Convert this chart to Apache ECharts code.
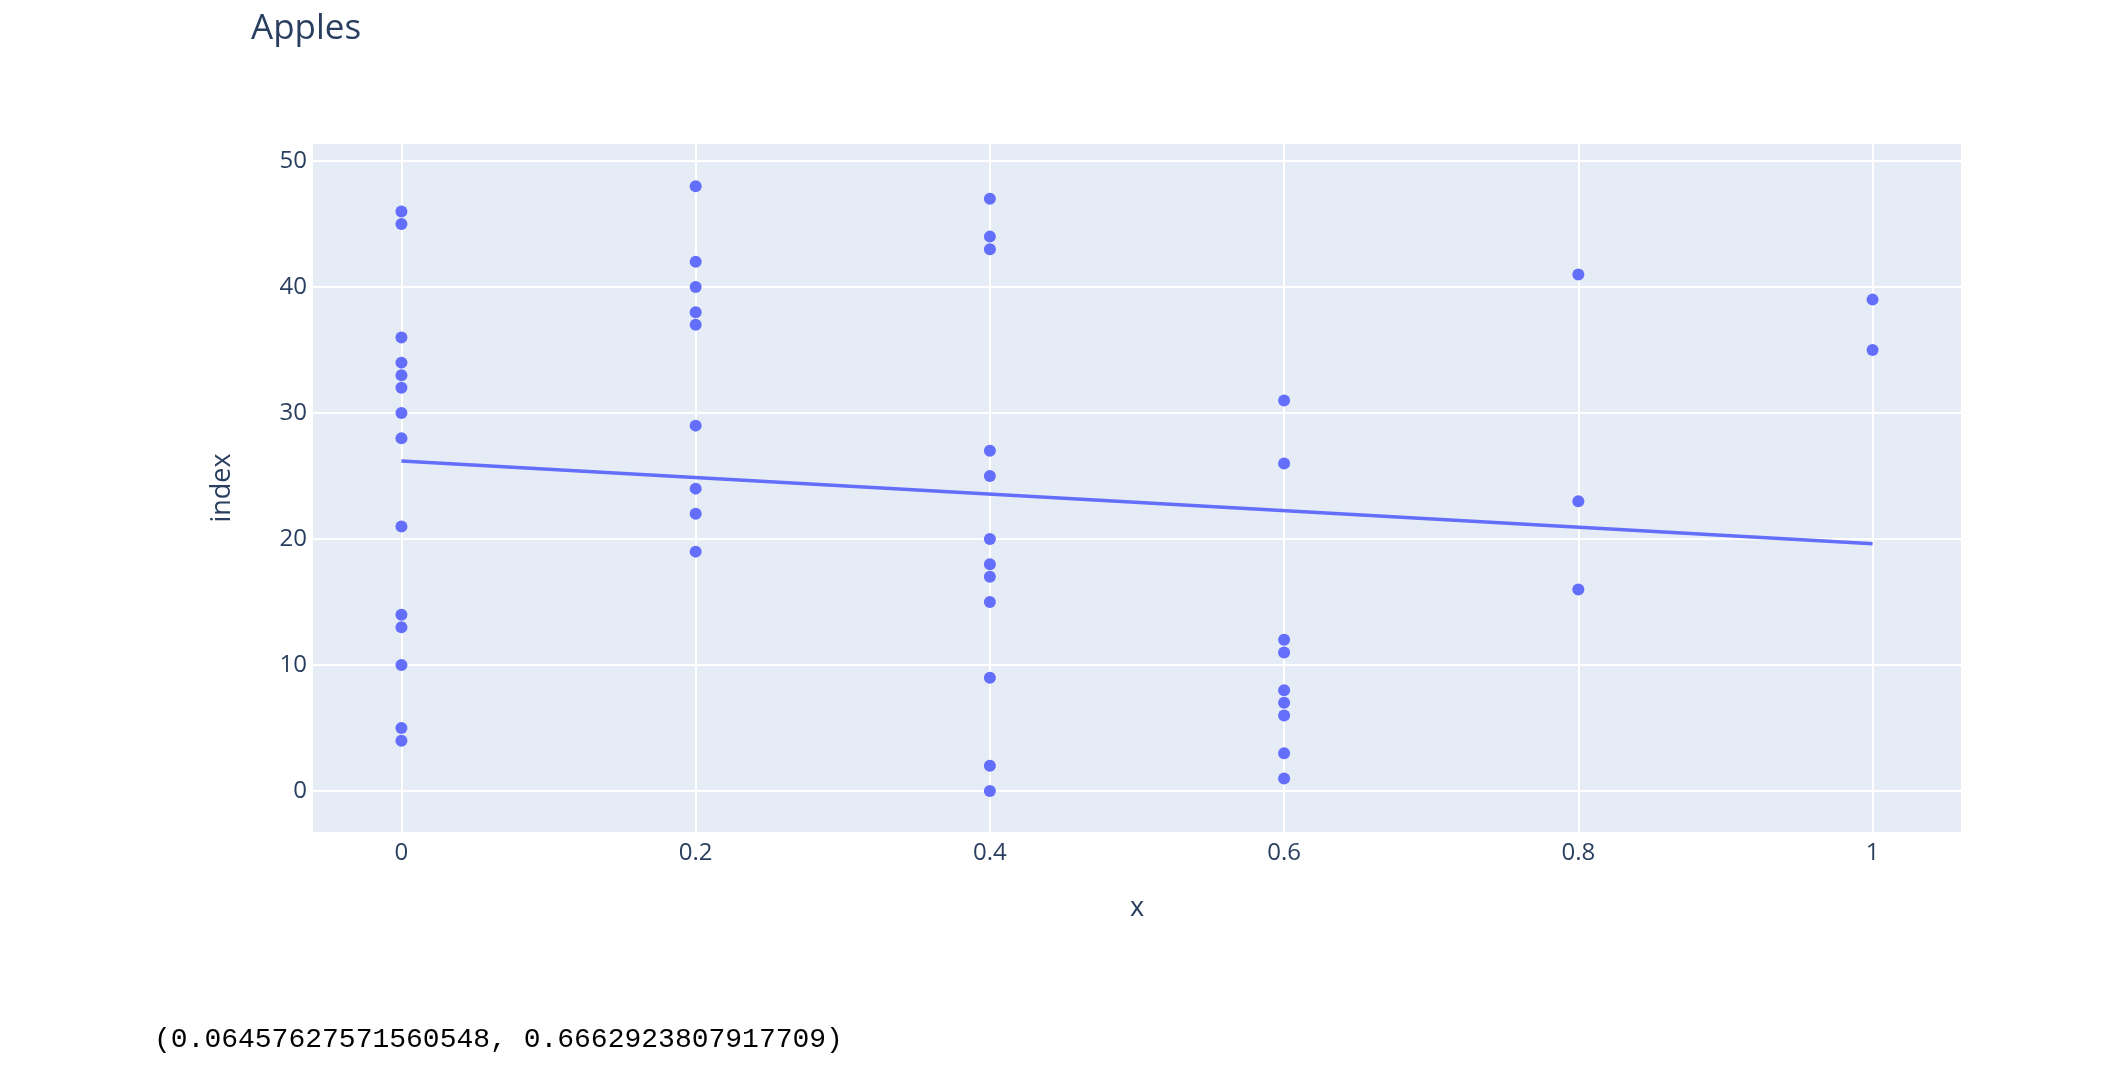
<!DOCTYPE html>
<html>
<head>
<meta charset="utf-8">
<script src="https://cdn.jsdelivr.net/npm/echarts@6/dist/echarts.min.js"></script>
<style>html,body{margin:0;padding:0;background:#fff;}#c{width:2120px;height:1084px;}</style>
</head>
<body>
<div id="c"></div>
<script>
// x value of each point group and the index values in it
const xGroups = [0, 0.2, 0.4, 0.6, 0.8, 1];
const idx_x0 = [46, 45, 36, 34, 33, 32, 30, 28, 21, 14, 13, 10, 5, 4];
const idx_x02 = [48, 42, 40, 38, 37, 29, 24, 22, 19];
const idx_x04 = [47, 44, 43, 27, 25, 20, 18, 17, 15, 9, 2, 0];
const idx_x06 = [31, 26, 12, 11, 8, 7, 6, 3, 1];
const idx_x08 = [41, 23, 16];
const idx_x1 = [39, 35];
const titleText = 'Apples';
const xName = 'x';
const yName = 'index';
const footerText = '(0.06457627571560548, 0.6662923807917709)';

const groups = [idx_x0, idx_x02, idx_x04, idx_x06, idx_x08, idx_x1];
const points = [];
groups.forEach((g, i) => g.forEach(v => points.push([xGroups[i], v])));

// OLS trendline from the points
const n = points.length;
const mx = points.reduce((s, p) => s + p[0], 0) / n;
const my = points.reduce((s, p) => s + p[1], 0) / n;
let sxy = 0, sxx = 0;
points.forEach(p => { sxy += (p[0] - mx) * (p[1] - my); sxx += (p[0] - mx) * (p[0] - mx); });
const slope = sxy / sxx, icpt = my - slope * mx;
const xmin = Math.min(...points.map(p => p[0])), xmax = Math.max(...points.map(p => p[0]));
const trend = [[xmin, icpt + slope * xmin], [xmax, icpt + slope * xmax]];

const txt = '#2a3f5f';
const chart = echarts.init(document.getElementById('c'));
chart.setOption({
  animation: false,
  backgroundColor: '#fff',
  title: [
    { text: titleText, left: 246, top: 7, textStyle: { fontFamily: 'Open Sans', fontSize: 35, fontWeight: 'normal', color: txt } },
    { text: footerText, left: 149, top: 1021, textStyle: { fontFamily: 'Liberation Mono', fontSize: 28, fontWeight: 'normal', color: '#000' } }
  ],
  grid: { left: 312, right: 158, top: 143, bottom: 251, show: true, backgroundColor: '#E5ECF6', borderWidth: 0 },
  xAxis: {
    type: 'value', min: -0.0608, max: 1.0608, splitNumber: 5, minInterval: 0.2, maxInterval: 0.2,
    name: xName, nameLocation: 'middle', nameGap: 62,
    nameTextStyle: { fontFamily: 'Open Sans', fontSize: 27, color: txt },
    axisLine: { show: false }, axisTick: { show: false },
    axisLabel: { showMinLabel: false, showMaxLabel: false, margin: 8, fontFamily: 'Open Sans', fontSize: 24, color: txt,
      formatter: v => String(Math.round(v * 10) / 10) },
    splitLine: { show: true, lineStyle: { color: '#fff', width: 2 } }
  },
  yAxis: {
    type: 'value', min: -3.33, max: 51.43, splitNumber: 5, minInterval: 10, maxInterval: 10,
    name: yName, nameLocation: 'middle', nameGap: 76, nameRotate: 90,
    nameTextStyle: { fontFamily: 'Open Sans', fontSize: 27, color: txt },
    axisLine: { show: false }, axisTick: { show: false },
    axisLabel: { showMinLabel: false, showMaxLabel: false, margin: 5, fontFamily: 'Open Sans', fontSize: 24, color: txt,
      formatter: v => String(Math.round(v)) },
    splitLine: { show: true, lineStyle: { color: '#fff', width: 2 } }
  },
  series: [
    { type: 'scatter', data: points, symbolSize: 12, itemStyle: { color: '#636EFA', opacity: 1 }, z: 3 },
    { type: 'line', data: trend, symbol: 'none', lineStyle: { color: '#636EFA', width: 3.5 }, z: 2 }
  ]
});
</script>
</body>
</html>
